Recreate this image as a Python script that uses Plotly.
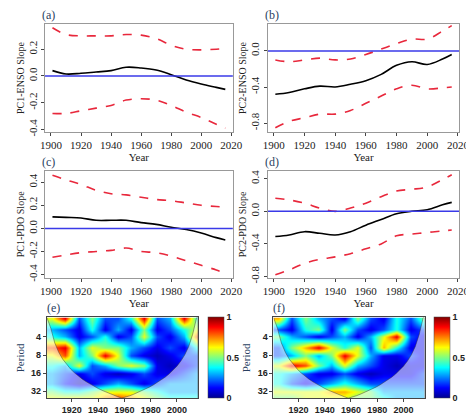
import numpy as np
import plotly.graph_objects as go

years = [1901,1910,1920,1930,1940,1950,1960,1970,1980,1990,2000,2010,2016]
a_mid = [0.04,0.015,0.02,0.03,0.04,0.065,0.06,0.045,0.01,-0.03,-0.06,-0.085,-0.1]
a_up = [0.36,0.31,0.3,0.3,0.3,0.31,0.305,0.28,0.23,0.2,0.195,0.2,0.205]
a_lo = [-0.28,-0.28,-0.26,-0.24,-0.22,-0.18,-0.17,-0.18,-0.22,-0.27,-0.31,-0.36,-0.39]
b_mid = [-0.48,-0.46,-0.42,-0.39,-0.4,-0.37,-0.33,-0.26,-0.16,-0.12,-0.15,-0.09,-0.04]
b_up = [-0.1,-0.12,-0.1,-0.08,-0.1,-0.09,-0.04,0.02,0.08,0.13,0.13,0.22,0.28]
b_lo = [-0.85,-0.78,-0.74,-0.7,-0.7,-0.66,-0.58,-0.5,-0.42,-0.38,-0.42,-0.41,-0.4]
c_mid = [0.1,0.095,0.09,0.07,0.07,0.07,0.05,0.035,0.01,-0.01,-0.04,-0.08,-0.1]
c_up = [0.46,0.42,0.38,0.33,0.3,0.29,0.27,0.25,0.24,0.22,0.2,0.19,0.185]
c_lo = [-0.25,-0.23,-0.21,-0.2,-0.19,-0.17,-0.2,-0.21,-0.24,-0.28,-0.32,-0.36,-0.39]
d_mid = [-0.31,-0.29,-0.25,-0.27,-0.29,-0.25,-0.17,-0.1,-0.03,0.0,0.02,0.08,0.11]
d_up = [0.16,0.14,0.1,0.04,0.0,0.04,0.1,0.18,0.25,0.27,0.3,0.39,0.45]
d_lo = [-0.78,-0.72,-0.64,-0.59,-0.56,-0.52,-0.46,-0.4,-0.3,-0.28,-0.26,-0.24,-0.23]

w_years = [1905,1915,1925,1935,1945,1955,1965,1975,1985,1995,2005,2015]
w_periods = [2,3,4,6,8,12,16,24,32,40]
e_power = [
 [0.6,0.9,0.2,0.5,0.2,0.2,0.4,0.9,0.2,0.3,0.9,0.4],
 [0.3,0.2,0.1,0.4,0.1,0.3,0.1,0.5,0.1,0.2,0.4,0.6],
 [0.4,0.3,0.1,0.2,0.4,0.1,0.2,0.6,0.2,0.1,0.3,0.8],
 [0.8,0.9,0.3,0.6,0.5,0.5,0.3,0.2,0.1,0.2,0.1,0.4],
 [0.6,0.8,0.3,0.5,0.9,0.6,0.2,0.1,0.05,0.1,0.2,0.2],
 [0.4,0.3,0.6,0.2,0.3,0.5,0.6,0.5,0.1,0.05,0.1,0.2],
 [0.3,0.2,0.1,0.2,0.1,0.05,0.1,0.2,0.1,0.1,0.2,0.3],
 [0.3,0.15,0.05,0.1,0.2,0.3,0.2,0.1,0.2,0.3,0.3,0.3],
 [0.5,0.4,0.4,0.5,0.6,0.6,0.6,0.5,0.4,0.3,0.3,0.3],
 [0.6,0.6,0.6,0.6,0.7,0.8,0.7,0.6,0.5,0.4,0.4,0.4]]
f_power = [
 [0.7,0.2,0.5,0.3,0.2,0.1,0.5,0.2,0.1,0.4,0.2,0.5],
 [0.2,0.1,0.4,0.5,0.1,0.5,0.2,0.1,0.2,0.4,0.1,0.2],
 [0.5,0.3,0.2,0.1,0.2,0.3,0.1,0.3,0.6,0.9,0.2,0.1],
 [0.2,0.5,0.7,0.9,0.6,0.4,0.6,0.2,0.7,0.4,0.1,0.1],
 [0.2,0.3,0.5,0.3,0.5,0.9,0.6,0.3,0.1,0.1,0.2,0.1],
 [0.6,0.9,0.8,0.5,0.3,0.6,0.3,0.2,0.1,0.05,0.1,0.1],
 [0.4,0.3,0.2,0.1,0.1,0.2,0.1,0.05,0.1,0.1,0.1,0.2],
 [0.4,0.2,0.1,0.2,0.3,0.4,0.3,0.2,0.2,0.2,0.2,0.2],
 [0.6,0.6,0.6,0.6,0.7,0.7,0.6,0.5,0.3,0.3,0.3,0.3],
 [0.5,0.5,0.6,0.6,0.6,0.6,0.5,0.5,0.4,0.3,0.3,0.3]]
coi_years = list(range(1901, 2017, 3)) + [2016]
coi_factor = 0.72

W, H = 474, 417
def px(x0, x1): return [x0 / W, x1 / W]
def py(y0, y1): return [1 - y1 / H, 1 - y0 / H]

fig = go.Figure()
serif = dict(family="Liberation Serif", size=11, color="#222")
sansb = dict(family="Liberation Sans", size=9, color="#222", weight="bold")

line_panels = [
 ("", px(33, 227), py(15, 125), a_mid, a_up, a_lo, [-0.42, 0.39], [-0.4,-0.2,0,0.2], "PC1-ENSO Slope", "(a)"),
 ("2", px(263, 461), py(15, 125), b_mid, b_up, b_lo, [-0.9, 0.3], [-0.8,-0.4,0], "PC2-ENSO Slope", "(b)"),
 ("3", px(33, 227), py(164, 273), c_mid, c_up, c_lo, [-0.43, 0.5], [-0.4,-0.2,0,0.2,0.4], "PC1-PDO Slope", "(c)"),
 ("4", px(263, 461), py(164, 273), d_mid, d_up, d_lo, [-0.82, 0.5], [-0.8,-0.4,0,0.4], "PC2-PDO Slope", "(d)"),
]
lay = {}
for k, xd, yd, mid, up, lo, yr, tv, title, lab in line_panels:
    xa, ya = "x" + k, "y" + k
    for s, col, dash, wd in [(up, "#e8283c", "dash", 1.6), (lo, "#e8283c", "dash", 1.6), (mid, "black", "solid", 1.6)]:
        fig.add_trace(go.Scatter(x=years, y=s, mode="lines", line=dict(color=col, dash=dash, width=wd, shape="spline"),
                                 xaxis=xa, yaxis=ya, showlegend=False))
    fig.add_trace(go.Scatter(x=[1895, 2022], y=[0, 0], mode="lines", line=dict(color="#3a3ae8", width=1.5),
                             xaxis=xa, yaxis=ya, showlegend=False))
    lay["xaxis" + k] = dict(domain=xd, anchor=ya, range=[1896, 2021], tickvals=[1900,1920,1940,1960,1980,2000,2020],
                            ticks="outside", ticklen=3, showgrid=False, zeroline=False, showline=True, mirror=True,
                            linecolor="#999", tickfont=serif, title=dict(text="Year", font=serif, standoff=0))
    lay["yaxis" + k] = dict(domain=yd, anchor=xa, range=yr, tickvals=tv, ticktext=[f"{v:.1f}" for v in tv],
                            tickangle=-90, ticks="outside", ticklen=3, showgrid=False, zeroline=False, showline=True,
                            mirror=True, linecolor="#999", tickfont=serif,
                            title=dict(text=title, font=dict(family="Liberation Serif", size=10, color="#222"), standoff=0))
    fig.add_annotation(text=lab, x=xd[0] - 0.01, y=yd[1] + 0.002, xref="paper", yref="paper",
                       xanchor="left", yanchor="bottom", showarrow=False,
                       font=dict(family="Liberation Serif", size=12), yshift=-1)

jet = [[0, "#00008f"], [0.125, "#0000ff"], [0.375, "#00ffff"], [0.5, "#80ff80"], [0.625, "#ffff00"],
       [0.875, "#ff0000"], [1, "#800000"]]
coi_vals = [max(1.9, min(45, coi_factor * min(t - 1900, 2017 - t))) for t in coi_years]
for k, xd, cbx, z, lab in [("5", px(35, 191), 201 / W, e_power, "(e)"), ("6", px(269, 425), 435 / W, f_power, "(f)")]:
    xa, ya = "x" + k, "y" + k
    yd = py(313, 395)
    fig.add_trace(go.Heatmap(x=w_years, y=w_periods, z=z, zsmooth="best", colorscale=jet, zmin=0, zmax=1,
                             xaxis=xa, yaxis=ya,
                             colorbar=dict(x=cbx, xanchor="left", y=yd[0], yanchor="bottom", len=yd[1] - yd[0],
                                           lenmode="fraction", thickness=16, tickvals=[0, 0.5, 1],
                                           ticktext=["0", "0.5", "1"], outlinewidth=0.5, ticklen=2, xpad=0, ypad=0,
                                           tickfont=sansb)))
    fig.add_trace(go.Scatter(x=coi_years + [2016, 1901], y=coi_vals + [45, 45], mode="lines", fill="toself",
                             fillcolor="rgba(255,255,255,0.55)", line=dict(color="rgba(60,60,60,0.6)", width=0.8),
                             xaxis=xa, yaxis=ya, showlegend=False, hoverinfo="skip"))
    lay["xaxis" + k] = dict(domain=xd, anchor=ya, range=[1901, 2016], tickvals=[1920,1940,1960,1980,2000],
                            ticks="outside", ticklen=3, showgrid=False, zeroline=False, showline=True, mirror=True,
                            linecolor="#444", tickfont=sansb)
    lay["yaxis" + k] = dict(domain=yd, anchor=xa, type="log", range=[np.log10(42), np.log10(1.9)],
                            tickvals=[4, 8, 16, 32], ticks="outside", ticklen=3, showgrid=False, zeroline=False,
                            showline=True, mirror=True, linecolor="#444", tickfont=sansb,
                            title=dict(text="Period", font=dict(family="Liberation Serif", size=11), standoff=4))
    fig.add_annotation(text=lab, x=xd[0] - 0.005, y=yd[1] + 0.002, xref="paper", yref="paper",
                       xanchor="left", yanchor="bottom", showarrow=False, font=dict(family="Liberation Serif", size=12))

fig.update_layout(width=W, height=H, margin=dict(l=0, r=0, t=0, b=0), plot_bgcolor="white",
                  paper_bgcolor="white", showlegend=False, **lay)
fig.write_html("out.html")
